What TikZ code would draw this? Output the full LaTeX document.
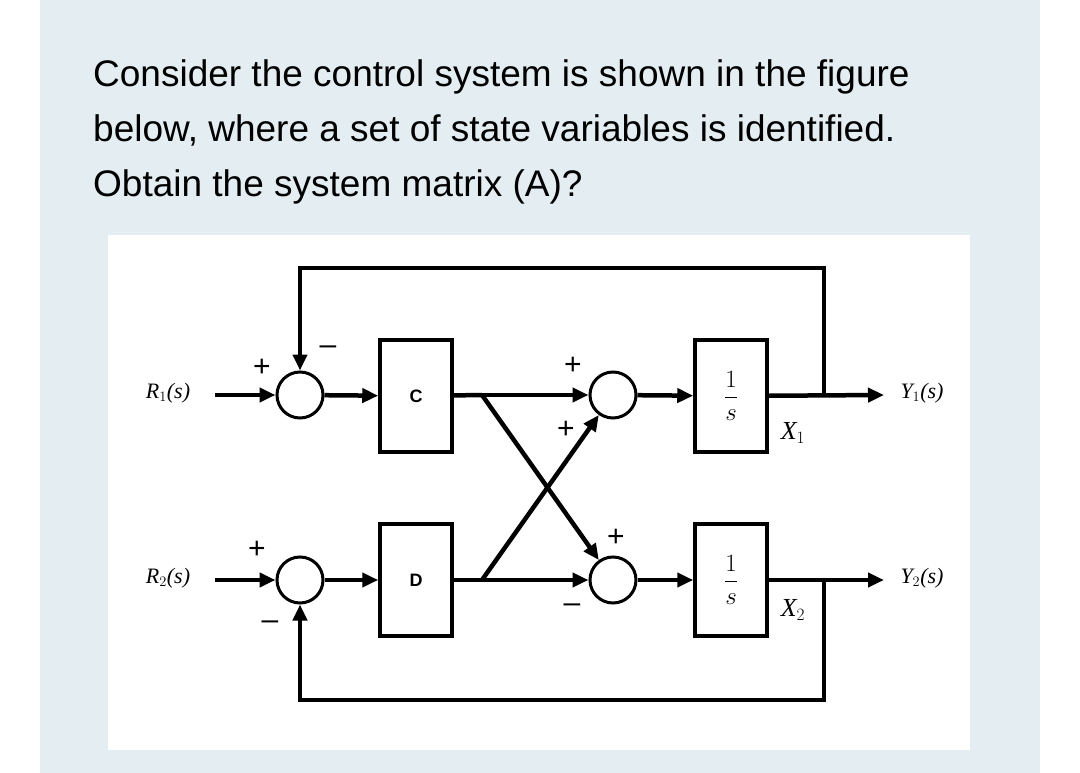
\documentclass[tikz,border=0pt]{standalone}
\usepackage{fontspec}
\setmainfont{Liberation Sans}
\newfontfamily\serifit{Liberation Serif}
\usetikzlibrary{arrows.meta}
\definecolor{card}{HTML}{E4EEF2}
\begin{document}
\begin{tikzpicture}[x=1pt,y=-1pt,
  sig/.style={line width=4.5pt,-{Triangle[length=16pt,width=14pt]}},
  ln/.style={line width=4.5pt},
  sumj/.style={circle,draw,line width=3pt,minimum size=46pt,inner sep=0},
  blk/.style={draw,line width=3.5pt,minimum width=72pt,minimum height=112pt,inner sep=0},
  lab/.style={font=\serifit\itshape\fontsize{22}{22}\selectfont},
  sgn/.style={font=\fontsize{30}{30}\selectfont}]
\useasboundingbox (0,0) rectangle (1080,773);
\fill[white] (0,0) rectangle (1080,773);
\fill[card] (40,0) rectangle (1040,773);
\fill[white] (108,235) rectangle (970,750);
\node[anchor=west,font=\fontsize{37}{55}\selectfont,align=left,inner sep=0] (q) at (93,132)
 {Consider the control system is shown in the figure\\below, where a set of state variables is identified.\\Obtain the system matrix (A)?};
\node[sumj] (s1) at (300,395) {};
\node[sumj] (s2) at (300,580) {};
\node[sumj] (s3) at (613,395) {};
\node[sumj] (s4) at (613,580) {};
\node[blk,font=\bfseries\fontsize{18}{18}\selectfont] (c) at (416,396) {C};
\node[blk,font=\bfseries\fontsize{18}{18}\selectfont] (d) at (416,580) {D};
\node[blk,font=\fontsize{24}{24}\selectfont] (i1) at (731,396) {$\displaystyle\frac{1}{s}$};
\node[blk,font=\fontsize{24}{24}\selectfont] (i2) at (731,580) {$\displaystyle\frac{1}{s}$};
\node[lab] (r1) at (168,393) {R$_1$(s)};
\node[lab] (r2) at (168,578) {R$_2$(s)};
\node[lab] (y1) at (922,393) {Y$_1$(s)};
\node[lab] (y2) at (922,578) {Y$_2$(s)};
\node[lab,font=\serifit\itshape\fontsize{26}{26}\selectfont] (x1) at (793,433) {X$_1$};
\node[lab,font=\serifit\itshape\fontsize{26}{26}\selectfont] (x2) at (793,610) {X$_2$};
\coordinate (a1) at (215,395); \coordinate (a2) at (215,580);
\coordinate (b1) at (482,395); \coordinate (b2) at (482,580);
\coordinate (o1) at (824,395); \coordinate (o2) at (824,580);
\coordinate (e1) at (884,395); \coordinate (e2) at (884,580);
\coordinate (t1) at (824,268); \coordinate (t2) at (300,268);
\coordinate (u1) at (824,700); \coordinate (u2) at (300,700);
\draw[sig] (a1) -- (s1); \draw[sig] (a2) -- (s2);
\draw[sig] (s1) -- (c); \draw[sig] (s2) -- (d);
\draw[ln] (c) -- (b1); \draw[ln] (d) -- (b2);
\draw[sig] (b1) -- (s3); \draw[sig] (b2) -- (s4);
\draw[sig] (b1) -- (s4); \draw[sig] (b2) -- (s3);
\draw[sig] (s3) -- (i1); \draw[sig] (s4) -- (i2);
\draw[sig] (i1) -- (e1); \draw[sig] (i2) -- (e2);
\draw[sig,line join=miter] (o1) -- (t1) -- (t2) -- (s1);
\draw[sig,line join=miter] (o2) -- (u1) -- (u2) -- (s2);
\node[sgn] at (262,368) {+}; \node[sgn] at (328,350) {--};
\node[sgn] at (257,550) {+}; \node[sgn] at (270,625) {--};
\node[sgn] at (573,366) {+}; \node[sgn] at (566,430) {+};
\node[sgn] at (616,538) {+}; \node[sgn] at (572,608) {--};
\end{tikzpicture}
\end{document}
